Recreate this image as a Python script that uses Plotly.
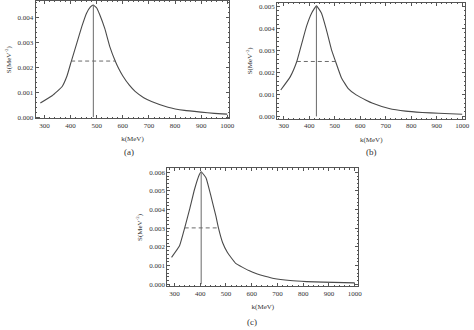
import plotly.graph_objects as go

# Spectral function S(k) for three parameter sets, k in MeV, S in MeV^-2
k_a = [284, 329, 367, 386, 402, 424, 443, 461, 476, 487, 500, 512, 531, 550, 572, 584, 600, 625, 647, 680, 710, 773, 836, 899, 950, 1000]
s_a = [0.00057, 0.00086, 0.00122, 0.00165, 0.00222, 0.00298, 0.00364, 0.00417, 0.00442, 0.00450, 0.00438, 0.00410, 0.00355, 0.00283, 0.00222, 0.00195, 0.00165, 0.00128, 0.00103, 0.00078, 0.00063, 0.00040, 0.00027, 0.00020, 0.00015, 0.00012]
peak_a = (487, 0.00450)
half_a = (402, 572, 0.00225)

k_b = [288, 325, 351, 370, 389, 409, 428, 448, 467, 487, 503, 526, 552, 584, 623, 649, 713, 778, 843, 908, 1000]
s_b = [0.00120, 0.00180, 0.00250, 0.00330, 0.00410, 0.00470, 0.00503, 0.00470, 0.00395, 0.00304, 0.00250, 0.00176, 0.00128, 0.00098, 0.00074, 0.00060, 0.00036, 0.00024, 0.00018, 0.00014, 0.00010]
peak_b = (428, 0.00503)
half_b = (351, 503, 0.00250)

k_c = [289, 320, 340, 359, 378, 397, 404, 423, 442, 461, 471, 487, 506, 538, 589, 622, 652, 686, 749, 813, 877, 1000]
s_c = [0.00144, 0.00206, 0.00302, 0.00401, 0.00508, 0.00588, 0.00603, 0.00570, 0.00472, 0.00366, 0.00302, 0.00224, 0.00170, 0.00112, 0.00073, 0.00055, 0.00043, 0.00031, 0.00020, 0.00014, 0.00011, 0.00007]
peak_c = (404, 0.00603)
half_c = (340, 471, 0.00302)

x_ticks = [300, 400, 500, 600, 700, 800, 900, 1000]
captions = ["(a)", "(b)", "(c)"]

FONT = "Liberation Serif"
CURVE = "#4a4a4a"
GUIDE = "#6a6a6a"

panels = [
    dict(k=k_a, s=s_a, peak=peak_a, half=half_a, xd=[0.076, 0.489], yd=[0.638, 0.997],
         xr=[266, 1008], yr=[-0.00005, 0.00466], yt=[0, 0.001, 0.002, 0.003, 0.004],
         cap=(0.274, 0.536)),
    dict(k=k_b, s=s_b, peak=peak_b, half=half_b, xd=[0.591, 0.992], yd=[0.636, 0.992],
         xr=[274, 1012], yr=[-0.00012, 0.00518], yt=[0, 0.001, 0.002, 0.003, 0.004, 0.005],
         cap=(0.793, 0.536)),
    dict(k=k_c, s=s_c, peak=peak_c, half=half_c, xd=[0.357, 0.764], yd=[0.124, 0.485],
         xr=[273, 1014], yr=[-0.00012, 0.00621], yt=[0, 0.001, 0.002, 0.003, 0.004, 0.005, 0.006],
         cap=(0.538, 0.016)),
]

fig = go.Figure()
layout = {}
for i, p in enumerate(panels):
    n = "" if i == 0 else str(i + 1)
    xa, ya = "x" + n, "y" + n
    fig.add_trace(go.Scatter(x=p["k"], y=p["s"], mode="lines", xaxis=xa, yaxis=ya,
                             line=dict(color=CURVE, width=1.1, shape="spline", smoothing=0.35),
                             showlegend=False, hoverinfo="skip"))
    pk, ps = p["peak"]
    fig.add_trace(go.Scatter(x=[pk, pk], y=[0, ps], mode="lines", xaxis=xa, yaxis=ya,
                             line=dict(color=GUIDE, width=1), showlegend=False, hoverinfo="skip"))
    hl, hr, hs = p["half"]
    fig.add_trace(go.Scatter(x=[hl, hr], y=[hs, hs], mode="lines", xaxis=xa, yaxis=ya,
                             line=dict(color=GUIDE, width=1, dash="4px,3px"), showlegend=False,
                             hoverinfo="skip"))
    common = dict(showgrid=False, zeroline=False, showline=True, linecolor="#555", linewidth=1,
                  mirror="allticks", ticks="inside", ticklen=3, tickcolor="#555",
                  tickfont=dict(family=FONT, size=7, color="#333"))
    layout["xaxis" + n] = dict(common, domain=p["xd"], range=p["xr"], anchor=ya,
                               tickvals=x_ticks,
                               minor=dict(dtick=20, tick0=0, ticks="inside", ticklen=1.5, tickcolor="#555"),
                               title=dict(text="k(MeV)", font=dict(family=FONT, size=7, color="#333"), standoff=7))
    layout["yaxis" + n] = dict(common, domain=p["yd"], range=p["yr"], anchor=xa,
                               tickvals=p["yt"], tickformat=".3f",
                               minor=dict(dtick=0.0002, tick0=0, ticks="inside", ticklen=1.5, tickcolor="#555"),
                               title=dict(text="S(MeV<sup>-2</sup>)", font=dict(family=FONT, size=7, color="#333"), standoff=5))
    cx, cy = p["cap"]
    fig.add_annotation(text=captions[i], x=cx, y=cy, xref="paper", yref="paper", showarrow=False,
                       font=dict(family=FONT, size=9, color="#333"), xanchor="center", yanchor="middle")

fig.update_layout(**layout, width=474, height=330, margin=dict(l=0, r=0, t=0, b=0),
                  plot_bgcolor="white", paper_bgcolor="white")
fig.write_html("out.html")
